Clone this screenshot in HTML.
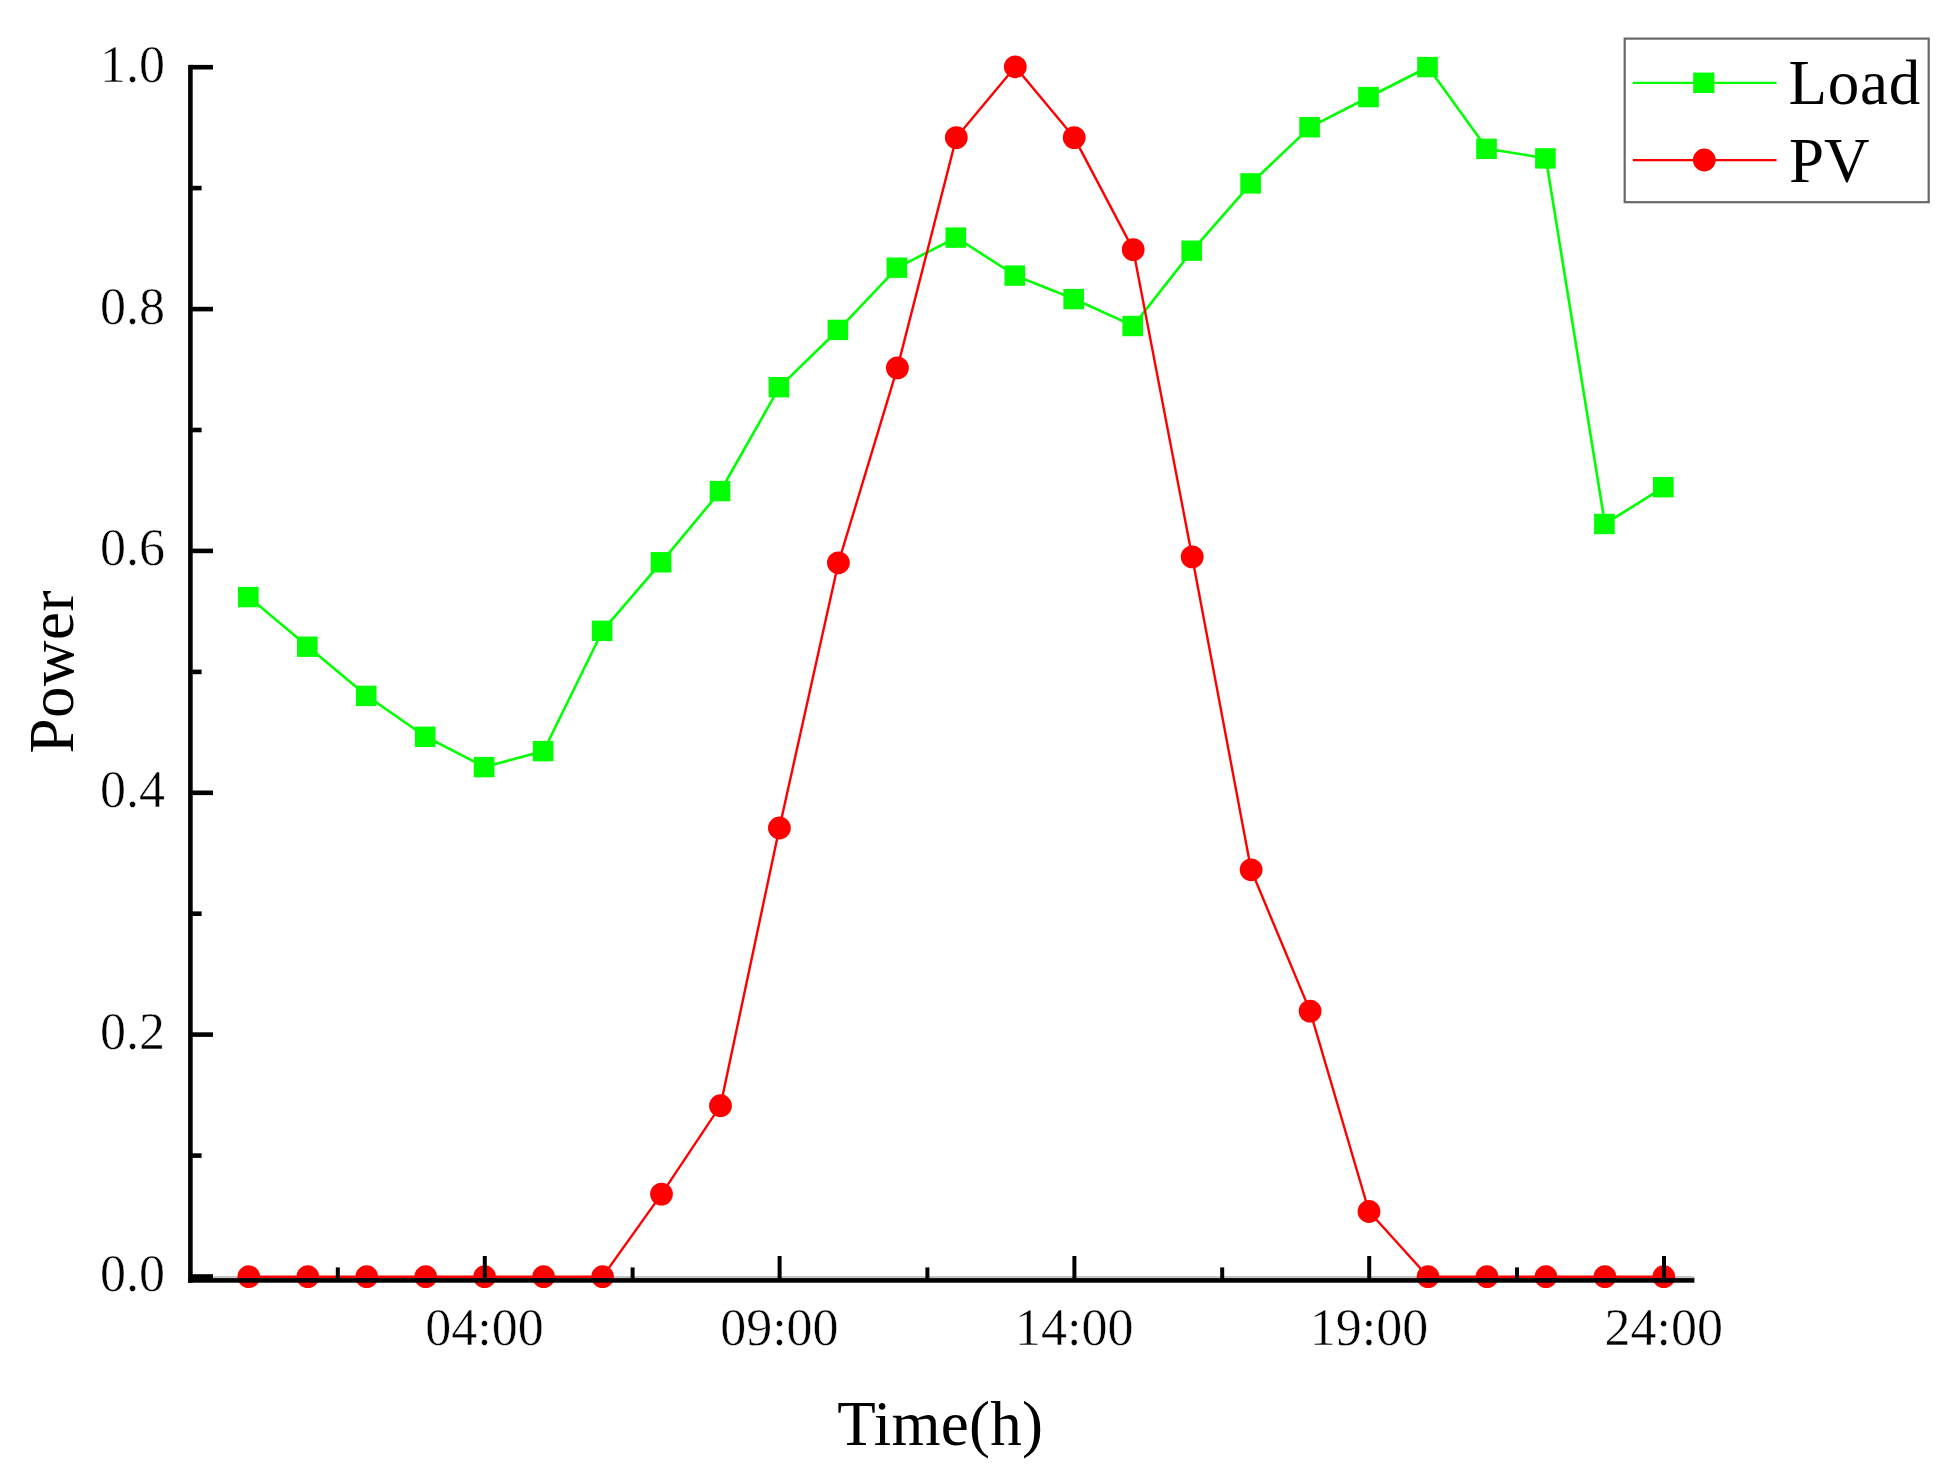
<!DOCTYPE html>
<html lang="en"><head><meta charset="utf-8"><title>Load and PV power</title>
<style>html,body{margin:0;padding:0;background:#fff}body{width:1957px;height:1483px;overflow:hidden}svg{display:block}text{font-family:"Liberation Serif","Times New Roman",serif;fill:#000}.tk text{stroke:#fff;stroke-width:0.5px}</style></head><body>
<svg width="1957" height="1483" viewBox="0 0 1957 1483">
<rect width="1957" height="1483" fill="#fff"/>
<rect x="192" y="1276" width="1502.4" height="2.4" fill="#c6c6c6"/>
<polyline points="248.8,597.0 307.8,646.6 366.7,695.8 425.7,736.7 484.6,767.0 543.6,751.0 602.6,630.7 661.5,562.2 720.5,491.0 779.4,387.1 838.4,329.8 897.4,267.6 956.3,237.5 1015.3,275.5 1074.2,299.0 1133.2,325.9 1192.2,250.6 1251.1,183.3 1310.1,127.1 1369.0,97.0 1428.0,67.0 1487.0,148.7 1545.9,158.3 1604.9,523.9 1663.8,487.1" fill="none" stroke="#00ff00" stroke-width="2.6" stroke-linejoin="round"/>
<rect x="238.0" y="586.9" width="20.6" height="20.4" fill="#00ff00"/>
<rect x="297.0" y="636.5" width="20.6" height="20.4" fill="#00ff00"/>
<rect x="355.9" y="685.7" width="20.6" height="20.4" fill="#00ff00"/>
<rect x="414.9" y="726.6" width="20.6" height="20.4" fill="#00ff00"/>
<rect x="473.8" y="756.9" width="20.6" height="20.4" fill="#00ff00"/>
<rect x="532.8" y="740.9" width="20.6" height="20.4" fill="#00ff00"/>
<rect x="591.8" y="620.6" width="20.6" height="20.4" fill="#00ff00"/>
<rect x="650.7" y="552.1" width="20.6" height="20.4" fill="#00ff00"/>
<rect x="709.7" y="480.9" width="20.6" height="20.4" fill="#00ff00"/>
<rect x="768.6" y="377.0" width="20.6" height="20.4" fill="#00ff00"/>
<rect x="827.6" y="319.7" width="20.6" height="20.4" fill="#00ff00"/>
<rect x="886.6" y="257.5" width="20.6" height="20.4" fill="#00ff00"/>
<rect x="945.5" y="227.4" width="20.6" height="20.4" fill="#00ff00"/>
<rect x="1004.5" y="265.4" width="20.6" height="20.4" fill="#00ff00"/>
<rect x="1063.4" y="288.9" width="20.6" height="20.4" fill="#00ff00"/>
<rect x="1122.4" y="315.8" width="20.6" height="20.4" fill="#00ff00"/>
<rect x="1181.4" y="240.5" width="20.6" height="20.4" fill="#00ff00"/>
<rect x="1240.3" y="173.2" width="20.6" height="20.4" fill="#00ff00"/>
<rect x="1299.3" y="117.0" width="20.6" height="20.4" fill="#00ff00"/>
<rect x="1358.2" y="86.9" width="20.6" height="20.4" fill="#00ff00"/>
<rect x="1417.2" y="56.9" width="20.6" height="20.4" fill="#00ff00"/>
<rect x="1476.2" y="138.6" width="20.6" height="20.4" fill="#00ff00"/>
<rect x="1535.1" y="148.2" width="20.6" height="20.4" fill="#00ff00"/>
<rect x="1594.1" y="513.8" width="20.6" height="20.4" fill="#00ff00"/>
<rect x="1653.0" y="477.0" width="20.6" height="20.4" fill="#00ff00"/>
<polyline points="248.8,1276.7 307.8,1276.7 366.7,1276.7 425.7,1276.7 484.6,1276.7 543.6,1276.7 602.6,1276.7 661.5,1194.1 720.5,1105.7 779.4,828.0 838.4,562.8 897.4,367.9 956.3,137.6 1015.3,66.8 1074.2,137.6 1133.2,249.6 1192.2,556.9 1251.1,869.8 1310.1,1011.1 1369.0,1211.5 1428.0,1276.7 1487.0,1276.7 1545.9,1276.7 1604.9,1276.7 1663.8,1276.7" fill="none" stroke="#ff0000" stroke-width="2.4" stroke-linejoin="round"/>
<circle cx="248.8" cy="1276.7" r="11.4" fill="#ff0000"/>
<circle cx="307.8" cy="1276.7" r="11.4" fill="#ff0000"/>
<circle cx="366.7" cy="1276.7" r="11.4" fill="#ff0000"/>
<circle cx="425.7" cy="1276.7" r="11.4" fill="#ff0000"/>
<circle cx="484.6" cy="1276.7" r="11.4" fill="#ff0000"/>
<circle cx="543.6" cy="1276.7" r="11.4" fill="#ff0000"/>
<circle cx="602.6" cy="1276.7" r="11.4" fill="#ff0000"/>
<circle cx="661.5" cy="1194.1" r="11.4" fill="#ff0000"/>
<circle cx="720.5" cy="1105.7" r="11.4" fill="#ff0000"/>
<circle cx="779.4" cy="828.0" r="11.4" fill="#ff0000"/>
<circle cx="838.4" cy="562.8" r="11.4" fill="#ff0000"/>
<circle cx="897.4" cy="367.9" r="11.4" fill="#ff0000"/>
<circle cx="956.3" cy="137.6" r="11.4" fill="#ff0000"/>
<circle cx="1015.3" cy="66.8" r="11.4" fill="#ff0000"/>
<circle cx="1074.2" cy="137.6" r="11.4" fill="#ff0000"/>
<circle cx="1133.2" cy="249.6" r="11.4" fill="#ff0000"/>
<circle cx="1192.2" cy="556.9" r="11.4" fill="#ff0000"/>
<circle cx="1251.1" cy="869.8" r="11.4" fill="#ff0000"/>
<circle cx="1310.1" cy="1011.1" r="11.4" fill="#ff0000"/>
<circle cx="1369.0" cy="1211.5" r="11.4" fill="#ff0000"/>
<circle cx="1428.0" cy="1276.7" r="11.4" fill="#ff0000"/>
<circle cx="1487.0" cy="1276.7" r="11.4" fill="#ff0000"/>
<circle cx="1545.9" cy="1276.7" r="11.4" fill="#ff0000"/>
<circle cx="1604.9" cy="1276.7" r="11.4" fill="#ff0000"/>
<circle cx="1663.8" cy="1276.7" r="11.4" fill="#ff0000"/>
<g fill="#000">
<rect x="188.1" y="64.9" width="4.6" height="1217.8"/>
<rect x="188.1" y="1278.1" width="1506.3" height="4.6"/>
<rect x="190" y="1274.2" width="23.0" height="4.6"/>
<rect x="190" y="1153.3" width="11.6" height="4.6"/>
<rect x="190" y="1032.3" width="23.0" height="4.6"/>
<rect x="190" y="911.4" width="11.6" height="4.6"/>
<rect x="190" y="790.5" width="23.0" height="4.6"/>
<rect x="190" y="669.6" width="11.6" height="4.6"/>
<rect x="190" y="548.6" width="23.0" height="4.6"/>
<rect x="190" y="427.7" width="11.6" height="4.6"/>
<rect x="190" y="306.8" width="23.0" height="4.6"/>
<rect x="190" y="185.8" width="11.6" height="4.6"/>
<rect x="190" y="64.9" width="23.0" height="4.6"/>
<rect x="482.8" y="1256" width="4" height="24"/>
<rect x="777.6" y="1256" width="4" height="24"/>
<rect x="1072.4" y="1256" width="4" height="24"/>
<rect x="1367.2" y="1256" width="4" height="24"/>
<rect x="1662.0" y="1256" width="4" height="24"/>
<rect x="335.8" y="1267.4" width="4" height="12"/>
<rect x="630.6" y="1267.4" width="4" height="12"/>
<rect x="925.4" y="1267.4" width="4" height="12"/>
<rect x="1220.2" y="1267.4" width="4" height="12"/>
<rect x="1515.0" y="1267.4" width="4" height="12"/>
</g>
<g class="tk" font-size="52" text-anchor="end">
<text x="165" y="1291.0">0.0</text>
<text x="165" y="1049.1">0.2</text>
<text x="165" y="807.3">0.4</text>
<text x="165" y="565.4">0.6</text>
<text x="165" y="323.6">0.8</text>
<text x="165" y="81.7">1.0</text>
</g>
<g class="tk" font-size="52" text-anchor="middle">
<text x="484.6" y="1345">04:00</text>
<text x="779.4" y="1345">09:00</text>
<text x="1074.2" y="1345">14:00</text>
<text x="1369.0" y="1345">19:00</text>
<text x="1663.8" y="1345">24:00</text>
</g>
<text x="940.2" y="1444.7" font-size="63" text-anchor="middle" letter-spacing="0.25">Time(h)</text>
<text transform="translate(73.2,671.7) rotate(-90)" font-size="63" text-anchor="middle" letter-spacing="0.5">Power</text>
<rect x="1624.7" y="38.6" width="304" height="163.6" fill="#fff" stroke="#686868" stroke-width="2.2"/>
<line x1="1632.8" y1="82.9" x2="1776.6" y2="82.9" stroke="#00ff00" stroke-width="2.3"/>
<rect x="1693.2" y="72.6" width="21.2" height="20.4" fill="#00ff00"/>
<line x1="1632.8" y1="160.1" x2="1776.6" y2="160.1" stroke="#ff0000" stroke-width="2.3"/>
<circle cx="1704.3" cy="160" r="11.4" fill="#ff0000"/>
<text x="1788.6" y="104.3" font-size="63" letter-spacing="0.7">Load</text>
<text x="1789" y="181.5" font-size="63">PV</text>
</svg></body></html>
